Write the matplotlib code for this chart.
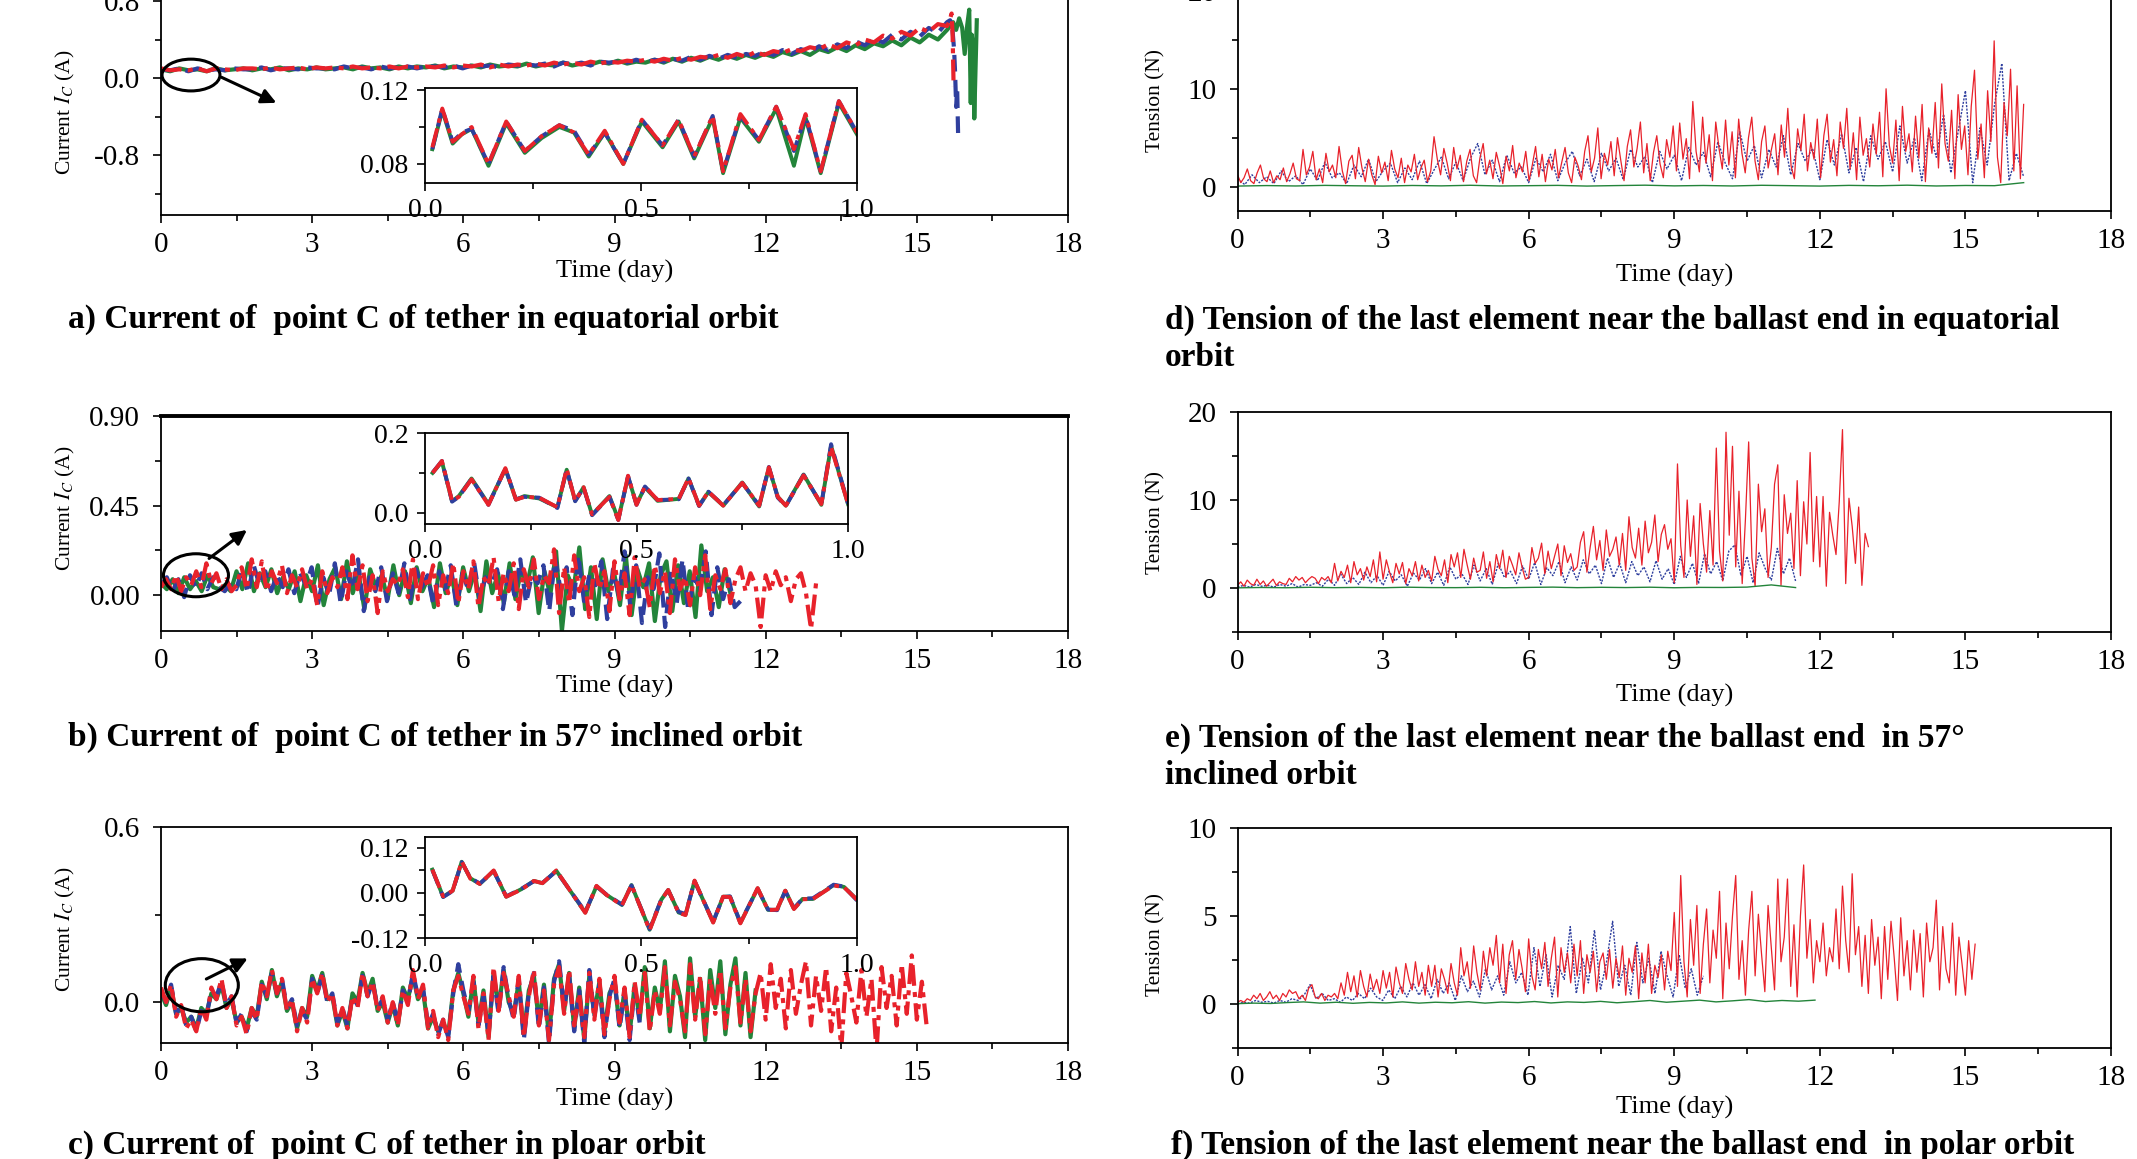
import numpy as np
import matplotlib
matplotlib.use("Agg")
import matplotlib.pyplot as plt
from matplotlib.patches import Ellipse
from matplotlib.ticker import MultipleLocator, FormatStrFormatter

plt.rcParams['font.family'] = ['Liberation Serif', 'DejaVu Serif']
plt.rcParams['mathtext.fontset'] = 'stix'

RED = '#e8222b'
BLUE = '#2f3f9e'
GREEN = '#23843a'

#___________DATA: current of point C, equatorial orbit (a)_______________
a_end = 15.6
a_green = [0.09,0.07,0.10,0.08,0.09,0.07,0.10,0.08,0.09,0.10,
           0.08,0.10,0.09,0.11,0.08,0.10,0.09,0.11,0.09,0.10,
           0.11,0.09,0.12,0.10,0.11,0.09,0.12,0.10,0.12,0.11,
           0.13,0.10,0.12,0.11,0.13,0.11,0.14,0.12,0.13,0.12,
           0.15,0.12,0.14,0.13,0.16,0.13,0.15,0.14,0.17,0.15,
           0.18,0.15,0.17,0.16,0.19,0.16,0.20,0.17,0.21,0.18,
           0.22,0.19,0.23,0.20,0.24,0.21,0.25,0.22,0.27,0.24,
           0.28,0.24,0.30,0.27,0.32,0.28,0.34,0.30,0.36,0.33,
           0.39,0.34,0.42,0.37,0.45,0.40,0.50]
a_blue = [0.09,0.08,0.10,0.07,0.10,0.08,0.09,0.08,0.10,0.09,
          0.09,0.11,0.08,0.10,0.10,0.09,0.11,0.10,0.10,0.09,
          0.12,0.10,0.11,0.09,0.12,0.10,0.11,0.12,0.10,0.12,
          0.12,0.11,0.13,0.10,0.13,0.12,0.13,0.11,0.14,0.13,
          0.14,0.13,0.15,0.12,0.16,0.14,0.16,0.13,0.17,0.16,
          0.17,0.16,0.19,0.16,0.19,0.17,0.20,0.18,0.22,0.19,
          0.23,0.20,0.24,0.21,0.25,0.23,0.27,0.24,0.29,0.25,
          0.30,0.27,0.33,0.29,0.35,0.31,0.38,0.34,0.41,0.37,
          0.45,0.40,0.48,0.43,0.52,0.47,0.58]
a_red = [0.10,0.08,0.09,0.08,0.10,0.07,0.10,0.09,0.08,0.10,
         0.10,0.09,0.11,0.09,0.10,0.11,0.09,0.11,0.10,0.11,
         0.10,0.12,0.10,0.11,0.10,0.12,0.10,0.12,0.11,0.12,
         0.11,0.13,0.11,0.13,0.12,0.14,0.11,0.14,0.12,0.14,
         0.13,0.15,0.13,0.16,0.14,0.16,0.14,0.17,0.15,0.17,
         0.16,0.18,0.17,0.19,0.17,0.20,0.18,0.21,0.19,0.22,
         0.21,0.24,0.21,0.25,0.22,0.27,0.24,0.28,0.26,0.30,
         0.28,0.32,0.30,0.35,0.31,0.37,0.34,0.40,0.37,0.44,
         0.41,0.48,0.44,0.52,0.48,0.56,0.54]
# break-up at the end of the run
a_green_tail_t = [15.72,15.78,15.84,15.90,15.95,16.00,16.04,16.07,16.09,16.12,16.14,16.17,16.19]
a_green_tail = [0.58,0.50,0.62,0.52,0.25,0.55,0.71,-0.26,0.45,0.30,-0.42,0.20,0.60]
a_blue_tail_t = [15.66,15.70,15.74,15.76,15.78,15.80,15.82]
a_blue_tail = [0.60,0.55,0.29,0.05,-0.30,-0.10,-0.61]
a_red_tail_t = [15.64,15.69,15.71,15.73]
a_red_tail = [0.58,0.67,0.45,-0.09]

# first day (inset a)
ins_a_t = [0.017,0.040,0.064,0.085,0.108,0.147,0.188,0.231,0.270,0.311,
           0.345,0.379,0.416,0.459,0.502,0.550,0.587,0.623,0.666,0.690,
           0.730,0.773,0.813,0.854,0.881,0.916,0.958,1.0]
ins_a_green = [0.088,0.109,0.091,0.096,0.099,0.079,0.102,0.086,0.094,0.100,
               0.097,0.084,0.097,0.080,0.103,0.089,0.103,0.083,0.105,0.075,
               0.105,0.092,0.110,0.079,0.105,0.075,0.113,0.096]
ins_a_blue = [0.088,0.110,0.092,0.097,0.099,0.080,0.103,0.087,0.095,0.101,
              0.098,0.085,0.097,0.080,0.104,0.090,0.104,0.084,0.106,0.076,
              0.106,0.093,0.111,0.087,0.106,0.076,0.114,0.097]
ins_a_red = [0.089,0.110,0.092,0.096,0.100,0.080,0.103,0.087,0.095,0.101,
             0.097,0.085,0.098,0.080,0.104,0.090,0.104,0.084,0.106,0.076,
             0.107,0.093,0.111,0.088,0.107,0.076,0.114,0.097]

#___________DATA: 57 deg inclined orbit (b)_______________
b_blue = [0.05,0.09,0.02,0.08,-0.01,0.10,0.04,0.11,0.03,0.09,
          0.04,0.02,0.06,0.03,0.13,0.01,0.15,0.05,0.12,0.02,
          0.10,0.04,0.13,0.01,0.11,0.05,0.14,-0.06,0.09,0.00,
          0.16,-0.04,0.12,0.03,0.18,-0.08,0.09,0.02,0.14,-0.03,
          0.11,0.01,0.16,-0.02,0.13,0.04,0.10,-0.05,0.12,0.02,
          0.15,-0.06,0.11,0.03,0.17,-0.02,0.09,0.05,0.13,-0.07,
          0.12,0.00,0.18,-0.04,0.10,0.06,0.15,-0.08,0.19,0.02,
          0.14,-0.10,0.20,-0.03,0.11,0.05,0.17,-0.12,0.13,0.00,
          0.22,-0.06,0.15,-0.14,0.09,0.03,0.21,-0.16,0.12,-0.04,
          0.18,-0.08,0.10,0.02,0.22,-0.10,0.14,-0.02,0.08,-0.06,
          -0.03]
b_green = [0.06,0.03,0.08,0.01,0.09,0.03,0.07,0.02,0.10,0.04,
           0.03,0.05,0.02,0.12,0.03,0.16,0.02,0.11,0.04,0.13,
           0.01,0.09,0.03,0.12,-0.03,0.10,0.02,0.15,-0.05,0.08,
           0.14,-0.02,0.17,0.01,0.11,-0.07,0.13,0.04,0.10,-0.02,
           0.15,0.00,0.12,-0.04,0.14,0.02,0.09,-0.06,0.16,0.01,
           0.10,-0.05,0.14,0.02,0.12,-0.08,0.17,0.01,0.11,-0.04,
           0.16,-0.02,0.13,0.05,0.19,-0.09,0.12,0.00,0.22,-0.18,
           0.10,0.03,0.24,-0.07,0.14,-0.12,0.18,0.02,0.11,-0.05,
           0.20,-0.10,0.13,0.04,0.16,-0.13,0.10,0.17,-0.08,0.15,
           -0.04,0.12,-0.11,0.25,0.02,0.09,-0.06,0.13,0.01]
b_red = [0.04,0.08,0.03,0.10,0.02,0.09,0.05,0.12,0.04,0.16,
         0.06,0.11,0.03,0.08,0.02,0.05,0.14,0.03,0.18,0.04,
         0.17,0.02,0.12,0.06,0.15,0.01,0.10,0.04,0.13,0.03,
         0.08,-0.05,0.12,0.01,0.09,0.04,0.14,-0.02,0.20,0.03,
         0.15,-0.03,0.10,-0.09,0.12,0.02,0.08,0.05,0.13,-0.01,
         0.18,-0.02,0.11,0.04,0.15,-0.05,0.10,0.01,0.16,-0.04,
         0.12,0.03,0.17,-0.06,0.09,0.05,0.19,-0.03,0.11,0.02,
         0.16,-0.07,0.13,0.04,0.18,-0.02,0.10,0.06,0.23,-0.09,
         0.14,-0.04,0.20,0.02,0.09,-0.11,0.16,0.03,0.12,-0.08,
         0.17,-0.02,0.11,-0.10,0.19,0.04,0.08,-0.06,0.15,0.01,
         0.12,-0.09,0.18,0.03,0.09,-0.05,0.14,0.00,0.20,-0.07,
         0.10,0.03,0.13,-0.04,0.08,0.14,0.02,0.11,0.05,-0.16,
         0.10,0.02,0.12,0.05,0.09,-0.03,0.08,0.11,0.01,-0.17,
         0.06]
b_ends = {'blue': 11.5, 'green': 11.3, 'red': 13.0}

ins_b_t = [0.018,0.040,0.064,0.080,0.110,0.150,0.190,0.215,0.235,0.270,
           0.313,0.335,0.355,0.375,0.395,0.436,0.457,0.480,0.500,0.520,
           0.550,0.600,0.623,0.648,0.670,0.705,0.750,0.790,0.813,0.834,
           0.853,0.895,0.937,0.960,1.0]
ins_b_green = [0.100,0.128,0.029,0.042,0.086,0.022,0.110,0.033,0.042,0.036,
               0.014,0.108,0.030,0.064,-0.005,0.042,-0.016,0.090,0.022,0.064,
               0.030,0.035,0.086,0.018,0.052,0.018,0.076,0.016,0.113,0.040,
               0.018,0.096,0.020,0.168,0.022]
ins_b_blue = [0.101,0.130,0.028,0.040,0.085,0.020,0.111,0.034,0.040,0.038,
              0.012,0.109,0.029,0.063,-0.006,0.040,-0.018,0.092,0.020,0.066,
              0.032,0.034,0.086,0.017,0.053,0.019,0.075,0.018,0.115,0.038,
              0.017,0.095,0.022,0.172,0.023]
ins_b_red = [0.100,0.130,0.030,0.040,0.084,0.020,0.112,0.033,0.040,0.038,
             0.014,0.110,0.030,0.064,-0.004,0.040,-0.018,0.093,0.020,0.066,
             0.032,0.035,0.087,0.018,0.053,0.018,0.075,0.018,0.114,0.040,
             0.018,0.094,0.022,0.165,0.022]

#___________DATA: polar orbit (c)_______________
c_blue = [0.04,0.00,0.06,-0.04,-0.01,-0.08,-0.05,-0.10,-0.03,-0.05,
          0.04,0.02,0.07,-0.01,0.02,-0.07,-0.04,-0.10,-0.03,-0.06,
          0.06,0.02,0.10,0.03,0.08,-0.02,0.01,-0.08,-0.03,-0.06,
          0.08,0.03,0.09,0.00,0.03,-0.07,-0.02,-0.08,0.02,-0.01,
          0.09,0.02,0.07,-0.02,0.01,-0.06,0.00,-0.07,0.04,0.00,
          0.10,0.02,0.05,-0.08,-0.04,-0.11,-0.06,-0.12,0.03,0.13,
          0.04,-0.03,0.07,-0.08,0.02,-0.11,0.09,-0.04,0.12,0.01,
          -0.06,0.08,-0.13,0.03,0.10,-0.09,0.05,-0.14,0.07,0.14,
          -0.02,0.09,-0.10,0.04,-0.14,0.11,-0.05,0.06,-0.12,0.02,
          0.08,-0.09,0.03,-0.13,0.05,-0.07]
c_green = [0.03,-0.01,0.05,-0.04,-0.02,-0.07,-0.05,-0.09,-0.02,-0.04,
           0.03,0.01,0.06,-0.02,0.01,-0.07,-0.05,-0.09,-0.02,-0.05,
           0.07,0.01,0.11,0.02,0.07,-0.03,0.00,-0.09,-0.02,-0.05,
           0.09,0.04,0.10,0.01,0.02,-0.08,-0.03,-0.09,0.03,0.00,
           0.10,0.03,0.08,-0.03,0.00,-0.07,-0.01,-0.08,0.05,0.01,
           0.09,0.01,0.04,-0.09,-0.05,-0.10,-0.07,-0.11,0.04,0.10,
           0.03,-0.05,0.08,-0.07,0.04,-0.12,0.10,-0.02,0.11,0.00,
           -0.04,0.07,-0.11,0.04,0.09,-0.07,0.06,-0.12,0.08,0.13,
           -0.03,0.10,-0.09,0.05,-0.13,0.09,-0.04,0.07,-0.10,0.03,
           0.07,-0.08,0.04,-0.11,0.06,-0.06,0.12,-0.09,0.05,-0.03,
           0.14,-0.10,0.09,0.02,-0.12,0.15,-0.05,0.08,-0.13,0.11,
           -0.02,0.14,-0.11,0.06,0.15,-0.08,0.10,-0.12,0.04]
c_red = [0.05,0.00,0.06,-0.05,-0.01,-0.09,-0.06,-0.10,-0.02,-0.06,
         0.05,0.01,0.08,-0.02,0.02,-0.08,-0.05,-0.11,-0.02,-0.06,
         0.07,0.02,0.11,0.03,0.08,-0.03,0.01,-0.10,-0.02,-0.07,
         0.08,0.03,0.10,0.00,0.03,-0.08,-0.02,-0.09,0.02,-0.02,
         0.10,0.02,0.07,-0.03,0.02,-0.07,0.00,-0.08,0.04,-0.01,
         0.11,0.01,0.06,-0.09,-0.03,-0.12,-0.06,-0.13,0.04,0.09,
         0.02,-0.04,0.09,-0.09,0.03,-0.13,0.12,-0.03,0.10,0.02,
         -0.05,0.09,-0.12,0.02,0.11,-0.08,0.04,-0.13,0.06,0.12,
         -0.04,0.11,-0.08,0.03,-0.12,0.10,-0.06,0.08,-0.11,0.01,
         0.09,-0.07,0.05,-0.12,0.07,-0.05,0.10,-0.10,0.04,-0.04,
         0.12,-0.08,0.07,0.01,-0.10,0.13,-0.06,0.09,-0.11,0.08,
         -0.04,0.11,-0.09,0.05,0.12,-0.07,0.08,-0.10,0.03,0.10,
         -0.06,0.13,-0.02,0.08,-0.09,0.11,-0.04,0.06,0.14,-0.08,
         0.09,-0.03,0.12,-0.10,0.05,-0.16,0.10,0.02,-0.07,0.11,
         -0.05,0.08,-0.17,0.12,-0.02,0.09,-0.08,0.13,-0.04,0.16,
         -0.06,0.07,-0.09]
c_ends = {'blue': 9.5, 'green': 11.8, 'red': 15.2}

ins_c_t = [0.017,0.042,0.064,0.085,0.105,0.127,0.159,0.188,0.223,0.252,
           0.272,0.304,0.371,0.397,0.420,0.456,0.478,0.520,0.547,0.563,
           0.587,0.603,0.624,0.667,0.690,0.706,0.730,0.770,0.794,0.815,
           0.834,0.854,0.874,0.898,0.946,0.970,1.0]
ins_c_green = [0.062,-0.010,0.006,0.083,0.039,0.024,0.059,-0.010,0.010,0.032,
               0.026,0.059,-0.052,0.018,-0.005,-0.032,0.021,-0.098,-0.018,0.008,
               -0.052,-0.058,0.032,-0.078,-0.010,-0.010,-0.080,0.012,-0.045,-0.045,
               0.006,-0.042,-0.016,-0.016,0.021,0.016,-0.018]
ins_c_blue = [0.061,-0.011,0.005,0.082,0.040,0.025,0.058,-0.009,0.011,0.031,
              0.027,0.058,-0.050,0.017,-0.004,-0.031,0.020,-0.096,-0.017,0.007,
              -0.050,-0.056,0.031,-0.076,-0.011,-0.009,-0.078,0.011,-0.044,-0.046,
              0.005,-0.041,-0.015,-0.014,0.022,0.017,-0.020]
ins_c_red = [0.062,-0.009,0.006,0.084,0.038,0.024,0.060,-0.010,0.009,0.032,
             0.026,0.060,-0.053,0.019,-0.005,-0.033,0.021,-0.099,-0.019,0.008,
             -0.053,-0.059,0.033,-0.079,-0.010,-0.011,-0.081,0.013,-0.046,-0.044,
             0.006,-0.043,-0.017,-0.016,0.020,0.015,-0.018]

#___________DATA: tension of last element, equatorial (d)_______________
d_red = [1.2,0.4,0.9,1.8,0.6,0.3,1.4,2.2,0.8,0.5,1.6,0.4,1.1,0.7,1.9,
         0.5,1.3,2.4,0.8,0.6,3.8,1.2,2.0,3.6,0.7,1.8,0.4,3.4,1.5,2.2,
         0.9,4.1,1.6,0.3,2.6,3.2,0.8,4.0,1.9,0.5,2.8,1.2,0.2,3.1,1.4,
         2.5,0.6,3.7,1.8,0.9,2.9,0.4,2.2,1.5,3.3,0.7,1.9,2.7,0.5,1.6,
         5.1,2.8,1.2,3.9,2.4,0.6,4.0,1.8,3.2,0.5,2.6,3.8,1.1,0.4,2.9,
         4.4,1.3,2.7,0.8,3.5,2.1,0.3,3.1,1.6,4.2,0.9,2.4,1.5,3.6,0.6,
         2.2,4.1,1.0,3.3,0.5,2.8,1.7,3.8,0.9,2.5,4.0,1.4,0.4,3.0,2.1,
         0.7,3.6,5.2,1.5,2.9,6.0,0.8,3.4,2.2,4.6,1.1,5.0,2.7,0.6,4.1,
         5.8,2.0,3.9,6.6,1.4,4.4,0.6,3.5,5.2,2.3,0.9,4.8,3.0,6.2,1.6,
         6.5,2.8,4.9,0.8,8.7,3.6,1.5,7.1,2.4,5.3,0.6,6.6,3.9,1.8,6.8,
         2.2,5.6,0.9,6.9,3.4,1.4,5.0,7.1,2.6,0.7,4.6,6.2,1.9,3.8,5.4,
         1.2,6.3,3.0,8.0,2.1,0.8,5.9,3.7,7.4,1.6,4.5,2.8,6.9,0.9,5.2,
         7.4,2.5,4.8,1.1,6.6,3.9,8.0,1.8,5.5,0.7,7.1,3.2,4.9,2.0,6.4,
         3.3,7.6,1.0,10.0,4.2,2.4,6.8,0.6,8.2,3.6,5.4,1.5,7.2,2.9,8.4,
         0.5,6.0,3.4,8.6,1.9,10.5,4.4,2.6,7.8,0.8,9.4,3.8,6.2,1.2,8.2,
         11.9,2.8,6.4,0.9,9.8,4.6,14.9,3.0,0.4,8.6,5.2,12.0,1.6,10.3,0.8,
         8.4]
d_blue = [0.8,0.2,1.2,0.4,1.0,0.3,1.6,0.5,1.1,0.2,
          1.8,0.6,2.5,0.9,1.4,0.3,2.2,1.0,2.8,0.5,
          1.6,2.4,0.4,1.9,0.7,2.6,0.3,1.7,3.0,0.8,
          2.5,0.6,2.9,4.4,1.2,2.7,0.5,3.2,1.4,2.0,
          0.4,2.9,1.5,3.3,0.6,2.4,3.6,1.1,2.8,0.5,
          3.4,1.6,2.9,0.7,3.8,2.0,3.1,0.4,3.6,1.8,
          3.2,0.6,4.0,2.2,3.5,1.0,4.6,2.4,0.8,5.6,
          2.6,4.2,0.9,3.8,2.0,5.2,1.2,4.4,2.6,3.9,
          0.7,4.8,2.2,5.4,1.4,4.0,0.5,5.2,2.8,4.6,
          1.5,6.2,2.4,5.0,0.6,5.8,3.0,7.4,1.4,5.6,
          9.8,0.4,6.0,2.2,8.4,12.6,0.6,3.4,1.0]
d_green = [0.05,0.10,0.06,0.12,0.08,0.05,0.11,0.07,0.13,0.06,
           0.09,0.12,0.05,0.10,0.14,0.07,0.11,0.06,0.13,0.09,
           0.05,0.12,0.08,0.14,0.06,0.11,0.09,0.40]
d_end = 16.2

#___________DATA: 57 deg inclined orbit (e)_______________
e_red = [0.3,0.7,0.2,0.9,0.5,0.3,1.0,0.4,0.8,0.2,0.6,1.0,0.3,0.7,0.5,
         0.4,1.1,0.7,1.3,0.9,1.2,0.6,1.0,1.3,1.1,0.5,1.2,0.9,1.3,0.6,
         2.8,0.8,1.9,1.2,2.6,0.6,3.0,1.5,2.2,0.9,2.4,1.3,3.2,0.7,4.1,
         1.0,3.2,1.8,0.6,2.8,1.6,2.9,0.5,2.2,1.4,3.0,0.8,2.6,1.2,2.0,
         0.8,3.6,2.1,1.4,3.2,0.6,3.8,2.4,4.0,1.2,4.4,2.6,1.0,3.4,1.8,
         2.0,4.1,1.1,3.0,0.7,3.8,2.2,4.3,1.2,3.6,2.6,1.5,4.0,2.3,1.0,
         1.2,4.6,2.8,3.4,5.1,1.6,4.2,2.2,3.6,5.0,1.4,4.8,2.9,3.9,2.0,
         2.4,5.2,6.4,1.8,4.6,7.0,3.2,5.4,2.0,6.6,3.6,4.4,5.8,2.6,6.2,
         2.0,8.1,4.6,3.4,6.8,2.6,7.6,4.0,5.2,8.3,3.0,6.1,7.2,4.4,5.6,
         0.6,14.1,4.8,1.2,10.0,3.6,8.2,0.4,9.6,5.0,1.8,8.8,2.6,15.9,4.2,
         0.8,17.7,6.0,16.1,2.4,11.0,0.5,7.8,16.6,3.4,0.2,11.8,6.4,9.0,1.2,
         4.6,11.8,14.0,0.3,10.6,6.2,8.5,2.2,12.2,1.4,9.8,5.0,15.4,3.0,10.4,
         2.4,10.4,0.2,8.6,6.0,3.8,9.8,18.0,0.5,10.2,7.0,2.8,9.2,0.3,6.2,
         4.7]
e_blue = [0.1,0.3,0.1,0.4,0.2,0.3,0.1,0.4,
          0.2,0.5,0.1,0.4,0.3,0.6,0.2,1.0,
          0.3,1.6,0.5,1.2,0.4,1.8,0.6,1.4,
          0.3,1.9,0.8,1.5,0.2,1.7,0.9,2.2,
          0.5,1.8,0.3,2.4,1.0,1.6,0.4,2.6,
          0.8,2.2,0.4,2.8,1.2,1.9,0.5,2.5,
          1.0,2.9,0.4,2.3,1.4,3.0,0.6,2.4,
          0.9,3.2,1.6,2.6,0.5,3.4,1.2,2.8,
          0.6,3.0,1.4,2.4,0.7,3.1,1.0,2.2,
          0.4,3.6,1.2,2.8,0.5,3.9,1.6,3.0,
          0.8,4.2,4.9,1.4,3.6,0.6,4.0,2.2,
          0.9,4.5,1.6,3.4,0.8]
e_green = [0.02,0.06,0.03,0.08,0.04,0.07,0.03,0.09,0.05,0.04,
           0.08,0.03,0.07,0.10,0.04,0.08,0.05,0.09,0.03,0.07,
           0.06,0.10,0.35,0.05]
e_ends = {'red': 13.0, 'blue': 11.5, 'green': 11.5}

#___________DATA: polar orbit (f)_______________
f_red = [0.1,0.2,0.1,0.3,0.2,0.5,0.3,0.6,0.2,0.4,0.7,0.3,0.5,0.2,0.6,
         0.4,0.8,0.6,0.7,0.3,0.5,0.2,0.9,1.1,0.4,0.3,0.6,0.2,0.5,0.4,
         0.6,0.3,1.2,0.5,1.8,0.7,1.6,0.4,1.9,1.0,0.4,1.7,0.8,1.4,0.6,
         1.9,0.9,1.8,0.4,2.1,1.2,0.6,2.3,1.4,0.8,2.4,1.0,1.8,0.5,2.2,
         1.0,2.2,0.4,2.0,1.4,0.6,2.3,1.2,0.5,3.2,1.6,2.4,0.9,3.3,1.8,
         0.8,3.0,1.6,3.2,2.2,3.9,1.2,3.4,0.6,2.8,3.6,1.4,3.1,2.0,0.7,
         3.7,1.6,0.8,3.1,2.0,3.5,1.0,2.6,3.8,0.4,3.2,1.8,2.9,1.2,3.4,
         1.6,3.6,0.6,2.8,1.8,3.0,0.7,2.4,2.9,1.4,3.1,0.9,2.6,1.5,3.3,
         0.5,2.6,1.8,3.3,0.3,2.9,1.2,3.4,0.6,2.2,1.5,2.8,0.8,3.0,1.9,
         5.2,1.0,7.3,2.4,0.4,4.8,2.2,5.6,0.6,3.4,5.4,1.2,4.2,2.6,6.4,
         0.3,4.6,2.0,5.0,7.3,1.4,3.6,0.5,4.2,6.4,1.6,5.1,2.8,0.7,5.6,
         3.2,0.8,7.1,2.4,3.8,7.1,1.0,4.5,0.4,5.0,7.9,2.6,4.8,1.2,3.6,
         2.4,4.6,1.6,3.2,2.4,5.4,2.0,6.7,3.6,1.8,7.4,2.8,4.4,1.0,3.9,
         0.6,4.8,2.2,3.8,0.3,4.4,1.4,4.7,2.6,0.2,4.9,1.6,3.6,0.8,4.2,
         1.8,4.0,0.4,4.6,2.4,3.2,5.9,0.8,4.4,2.0,1.2,4.6,0.5,3.8,2.2,
         0.5,3.6,1.4,3.4]
f_blue = [0.0,0.1,0.05,0.2,0.1,0.15,0.05,0.2,
          0.1,0.3,0.2,0.5,1.1,0.3,0.6,0.2,
          0.3,0.1,0.4,0.2,0.6,0.3,0.9,0.4,
          0.2,0.8,0.3,1.0,0.4,1.2,0.5,1.1,
          0.3,1.4,0.6,1.2,0.2,1.6,0.7,1.3,
          0.4,2.0,0.8,1.6,0.5,2.4,1.2,1.8,
          0.5,3.2,1.0,2.8,0.4,2.2,1.4,4.4,
          0.6,2.6,1.2,4.2,0.8,2.4,4.7,1.0,
          2.2,0.5,3.5,1.2,2.6,0.6,3.0,1.6,
          0.4,2.8,0.9,2.0,0.5,1.6]
f_green = [0.02,0.05,0.03,0.08,0.12,0.05,0.10,0.04,0.09,0.06,
           0.12,0.05,0.10,0.07,0.13,0.05,0.11,0.08,0.14,0.06,
           0.12,0.09,0.15,0.07,0.13,0.20,0.10,0.16,0.22,0.12,
           0.18,0.25,0.14,0.20,0.16,0.22]
f_ends = {'red': 15.2, 'blue': 9.6, 'green': 11.9}

captions = {
    'a': 'a) Current of  point C of tether in equatorial orbit',
    'b': 'b) Current of  point C of tether in 57\u00b0 inclined orbit',
    'c': 'c) Current of  point C of tether in ploar orbit',
    'd': 'd) Tension of the last element near the ballast end in equatorial\norbit',
    'e': 'e) Tension of the last element near the ballast end  in 57\u00b0\ninclined orbit',
    'f': 'f) Tension of the last element near the ballast end  in polar orbit',
}

#___________LAYOUT (pixels of the 2137x1159 page)_______________
W, H = 2137, 1159
fig = plt.figure(figsize=(W / 100, H / 100), dpi=100)


def add_box(l, t, r, b):
    return fig.add_axes([l / W, 1 - b / H, (r - l) / W, (b - t) / H])


def tline(n, end):
    return np.linspace(0, end, n)


def style(ax, ylim, major, minor, fmt, xmax=18, xmaj=3, xmin=1.5, size=21, ypad=9, xpad=6):
    ax.set_xlim(0, xmax)
    ax.set_ylim(*ylim)
    ax.xaxis.set_major_locator(MultipleLocator(xmaj))
    ax.xaxis.set_minor_locator(MultipleLocator(xmin))
    ax.yaxis.set_major_locator(MultipleLocator(major))
    ax.yaxis.set_minor_locator(MultipleLocator(minor))
    ax.yaxis.set_major_formatter(FormatStrFormatter(fmt))
    ax.tick_params(which='both', direction='out', labelsize=size, width=1.2)
    ax.tick_params(which='major', length=6)
    ax.tick_params(which='minor', length=4)
    ax.tick_params(axis='y', pad=ypad)
    ax.tick_params(axis='x', pad=xpad)
    for s in ax.spines.values():
        s.set_linewidth(1.3)


def xlabel(ax, ypx):
    ax.set_xlabel('Time (day)', fontsize=19)
    pos = ax.get_position()
    ax.xaxis.set_label_coords(pos.x0 + pos.width / 2, 1 - ypx / H, transform=fig.transFigure)
    ax.xaxis.label.set_verticalalignment('center')


def ylabel(ax, text, xpx, ypx):
    ax.set_ylabel(text, fontsize=15.5)
    ax.yaxis.set_label_coords(xpx / W, 1 - ypx / H, transform=fig.transFigure)
    ax.yaxis.label.set_verticalalignment('center')


def current_lines(ax, tg, g, tb, b, tr, r, lw=3.0):
    ax.plot(tg, g, color=GREEN, lw=lw, ls='-')
    ax.plot(tb, b, color=BLUE, lw=lw, ls=(0, (4, 2)))
    ax.plot(tr, r, color=RED, lw=lw, ls=(0, (5, 1.5, 1.2, 1.5)))


def tension_lines(ax, tr, r, tb, b, tg, g):
    ax.plot(tb, b, color=BLUE, lw=1.0, ls=(0, (1.5, 1)))
    ax.plot(tr, r, color=RED, lw=0.9, ls='-')
    ax.plot(tg, g, color=GREEN, lw=1.0, ls='-')


def mark(ax, center, w, h, start, end):
    ax.add_patch(Ellipse(center, w, h, fill=False, ec='black', lw=2.2, zorder=5))
    ax.annotate('', xy=end, xytext=start,
                arrowprops=dict(arrowstyle='-|>', color='black', lw=2.2, mutation_scale=22),
                zorder=6)


CUR = r'Current $I_C$ (A)'

# ---- a
ax = add_box(161, -56.75, 1068, 215)
ta = tline(len(a_green), a_end)
current_lines(ax,
              np.concatenate([ta, a_green_tail_t]), a_green + a_green_tail,
              np.concatenate([ta, a_blue_tail_t]), a_blue + a_blue_tail,
              np.concatenate([ta, a_red_tail_t]), a_red + a_red_tail)
style(ax, (-1.423, 1.4), 0.8, 0.4, '%.1f')
mark(ax, (0.595, 0.031), 1.15, 0.33, (1.15, 0.02), (2.34, -0.27))
xlabel(ax, 271)
ylabel(ax, CUR, 65, 112)

ins = add_box(425, 88, 857, 183)
current_lines(ins, ins_a_t, ins_a_green, ins_a_t, ins_a_blue, ins_a_t, ins_a_red, lw=2.8)
style(ins, (0.0697, 0.1211), 0.04, 0.02, '%.2f', xmax=1, xmaj=0.5, xmin=0.25, size=20, ypad=6, xpad=5)
ins.xaxis.set_major_formatter(FormatStrFormatter('%.1f'))

# ---- b
ax = add_box(161, 416, 1068, 631)
current_lines(ax,
              tline(len(b_green), b_ends['green']), b_green,
              tline(len(b_blue), b_ends['blue']), b_blue,
              tline(len(b_red), b_ends['red']), b_red)
style(ax, (-0.18, 0.9), 0.45, 0.225, '%.2f')
ax.spines['top'].set_linewidth(2.8)
mark(ax, (0.694, 0.10), 1.29, 0.216, (0.91, 0.176), (1.75, 0.336))
xlabel(ax, 686)
ylabel(ax, CUR, 65, 508)

ins = add_box(425, 433, 848, 524)
current_lines(ins, ins_b_t, ins_b_green, ins_b_t, ins_b_blue, ins_b_t, ins_b_red, lw=2.8)
style(ins, (-0.028, 0.2), 0.2, 0.1, '%.1f', xmax=1, xmaj=0.5, xmin=0.25, size=20, ypad=6, xpad=5)
ins.xaxis.set_major_formatter(FormatStrFormatter('%.1f'))

# ---- c
ax = add_box(161, 827, 1068, 1043)
current_lines(ax,
              tline(len(c_green), c_ends['green']), c_green,
              tline(len(c_blue), c_ends['blue']), c_blue,
              tline(len(c_red), c_ends['red']), c_red)
style(ax, (-0.14, 0.6), 0.6, 0.3, '%.1f')
mark(ax, (0.81, 0.058), 1.45, 0.182, (0.85, 0.075), (1.77, 0.154))
xlabel(ax, 1099)
ylabel(ax, CUR, 65, 929)

ins = add_box(425, 837, 857, 938)
current_lines(ins, ins_c_t, ins_c_green, ins_c_t, ins_c_blue, ins_c_t, ins_c_red, lw=2.8)
style(ins, (-0.12, 0.149), 0.12, 0.06, '%.2f', xmax=1, xmaj=0.5, xmin=0.25, size=20, ypad=6, xpad=5)
ins.xaxis.set_major_formatter(FormatStrFormatter('%.1f'))

# ---- d
ax = add_box(1237.5, -9, 2111, 211)
tension_lines(ax, tline(len(d_red), d_end), d_red,
              tline(len(d_blue), d_end), d_blue,
              tline(len(d_green), d_end), d_green)
style(ax, (-2.5, 20), 10, 5, '%d')
xlabel(ax, 275)
ylabel(ax, 'Tension (N)', 1156, 101)

# ---- e
ax = add_box(1237.5, 412, 2111, 632)
tension_lines(ax, tline(len(e_red), e_ends['red']), e_red,
              tline(len(e_blue), e_ends['blue']), e_blue,
              tline(len(e_green), e_ends['green']), e_green)
style(ax, (-5, 20), 10, 5, '%d')
xlabel(ax, 695)
ylabel(ax, 'Tension (N)', 1156, 523)

# ---- f
ax = add_box(1237.5, 828, 2111, 1048)
tension_lines(ax, tline(len(f_red), f_ends['red']), f_red,
              tline(len(f_blue), f_ends['blue']), f_blue,
              tline(len(f_green), f_ends['green']), f_green)
style(ax, (-2.5, 10), 5, 2.5, '%d')
xlabel(ax, 1107)
ylabel(ax, 'Tension (N)', 1156, 944)

# captions under each panel
cap = dict(fontsize=24, fontweight='bold', va='center', ha='left', linespacing=1.25)
fig.text(68 / W, 1 - 319 / H, captions['a'], **cap)
fig.text(68 / W, 1 - 737 / H, captions['b'], **cap)
fig.text(68 / W, 1 - 1145 / H, captions['c'], **cap)
fig.text(1165 / W, 1 - 338.5 / H, captions['d'], **cap)
fig.text(1165 / W, 1 - 757 / H, captions['e'], **cap)
fig.text(1171 / W, 1 - 1145 / H, captions['f'], **cap)

fig.savefig('out.png', dpi=100)
